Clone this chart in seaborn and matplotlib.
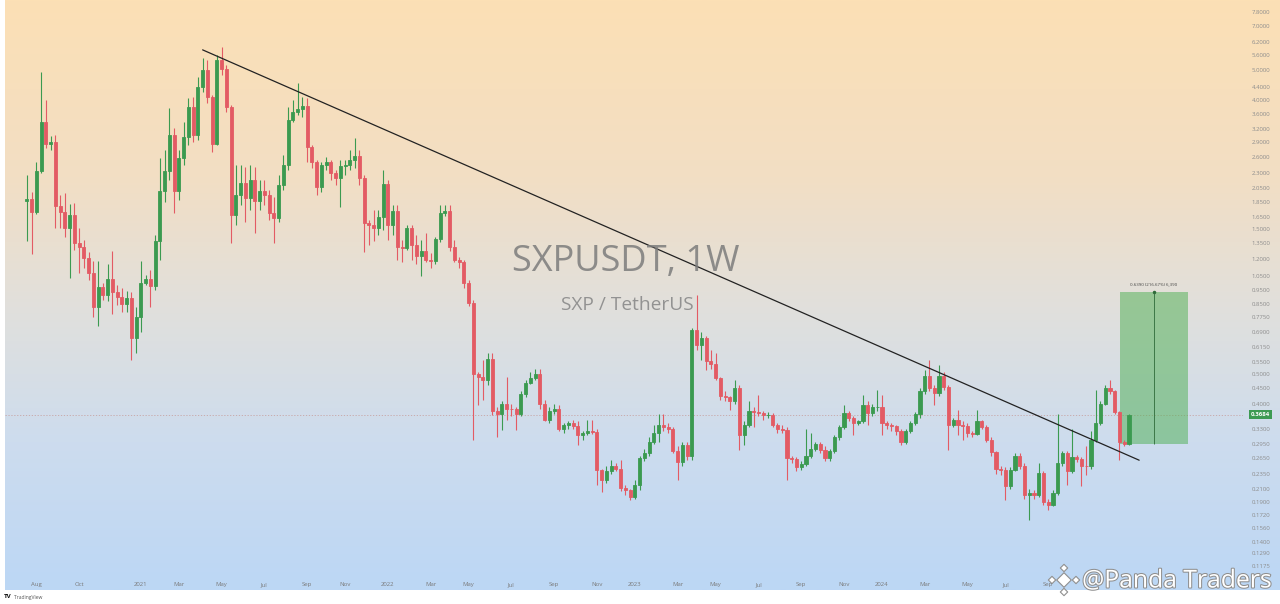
import numpy as np
import pandas as pd
import matplotlib
matplotlib.use("Agg")
import matplotlib.pyplot as plt
import matplotlib.dates as mdates
import matplotlib.patheffects as pe
from matplotlib.colors import LinearSegmentedColormap
from matplotlib.patches import Rectangle
from matplotlib.ticker import NullLocator, FixedLocator, FuncFormatter
import seaborn as sns

# ---- weekly SXPUSDT candles ----
first_week = "2020-07-20"
first_open = 1.86
close = [
    1.89, 1.71, 2.33, 3.38, 2.86, 2.90, 1.79, 1.71, 1.52, 1.67,
    1.35, 1.31, 1.21, 1.08, 0.83, 0.97, 0.91, 1.03, 0.93, 0.90,
    0.85, 0.89, 0.66, 0.77, 1.00, 1.03, 0.98, 1.37, 2.00, 2.33,
    3.07, 2.00, 2.58, 3.02, 3.78, 3.07, 4.40, 5.00, 4.10, 2.86,
    5.41, 5.05, 3.78, 1.67, 1.95, 2.13, 1.90, 2.18, 1.86, 2.00,
    1.94, 1.70, 1.64, 2.10, 2.44, 3.44, 3.65, 3.72, 3.82, 2.80,
    2.50, 2.06, 2.44, 2.50, 2.30, 2.22, 2.42, 2.44, 2.54, 2.62,
    2.22, 1.57, 1.55, 1.51, 1.65, 2.12, 1.55, 1.72, 1.31, 1.30,
    1.52, 1.33, 1.23, 1.27, 1.19, 1.18, 1.39, 1.70, 1.72, 1.31,
    1.19, 1.17, 1.00, 0.86, 0.50, 0.49, 0.48, 0.56, 0.38, 0.37,
    0.40, 0.385, 0.384, 0.37, 0.43, 0.47, 0.485, 0.50, 0.40, 0.355,
    0.38, 0.385, 0.33, 0.34, 0.345, 0.337, 0.315, 0.32, 0.325, 0.323,
    0.242, 0.225, 0.24, 0.25, 0.245, 0.212, 0.208, 0.197, 0.216, 0.265,
    0.275, 0.30, 0.32, 0.34, 0.335, 0.33, 0.28, 0.258, 0.293, 0.27,
    0.70, 0.625, 0.66, 0.555, 0.54, 0.485, 0.425, 0.42, 0.41, 0.45,
    0.316, 0.34, 0.38, 0.377, 0.372, 0.367, 0.368, 0.34, 0.33, 0.329,
    0.265, 0.263, 0.248, 0.253, 0.27, 0.285, 0.295, 0.283, 0.265, 0.28,
    0.31, 0.335, 0.372, 0.36, 0.345, 0.35, 0.396, 0.373, 0.39, 0.392,
    0.345, 0.34, 0.337, 0.325, 0.30, 0.325, 0.345, 0.37, 0.44, 0.495,
    0.45, 0.435, 0.495, 0.455, 0.34, 0.355, 0.34, 0.337, 0.32, 0.318,
    0.35, 0.335, 0.305, 0.277, 0.245, 0.243, 0.215, 0.243, 0.27, 0.25,
    0.20, 0.203, 0.201, 0.237, 0.19, 0.186, 0.203, 0.255, 0.275, 0.24,
    0.268, 0.263, 0.25, 0.249, 0.305, 0.345, 0.40, 0.45, 0.44, 0.375,
    0.30, 0.296, 0.368,
]
high = [
    2.26, 1.99, 2.50, 4.95, 4.00, 3.05, 3.07, 1.95, 1.98, 1.82,
    1.83, 1.52, 1.38, 1.26, 1.18, 1.18, 1.00, 1.15, 1.27, 0.985,
    0.96, 0.94, 0.93, 0.83, 1.18, 1.06, 1.10, 1.44, 2.58, 2.74,
    3.76, 3.22, 2.74, 3.38, 4.06, 4.10, 4.75, 5.50, 5.41, 4.15,
    5.62, 5.95, 5.21, 3.85, 2.44, 2.44, 2.40, 2.44, 2.40, 2.18,
    2.18, 2.02, 1.92, 2.26, 2.63, 3.78, 4.00, 4.55, 4.10, 4.06,
    2.84, 2.54, 2.50, 2.60, 2.54, 2.35, 2.54, 2.54, 2.74, 2.99,
    2.74, 2.26, 1.61, 1.74, 1.74, 2.35, 2.18, 1.80, 1.80, 1.38,
    1.55, 1.55, 1.44, 1.38, 1.46, 1.25, 1.42, 1.80, 1.80, 1.80,
    1.38, 1.22, 1.19, 1.02, 0.88, 0.51, 0.557, 0.59, 0.59, 0.39,
    0.41, 0.49, 0.40, 0.39, 0.44, 0.48, 0.51, 0.52, 0.52, 0.412,
    0.39, 0.40, 0.396, 0.345, 0.35, 0.354, 0.35, 0.325, 0.354, 0.354,
    0.33, 0.245, 0.25, 0.262, 0.255, 0.262, 0.216, 0.21, 0.225, 0.27,
    0.285, 0.31, 0.341, 0.37, 0.37, 0.345, 0.335, 0.29, 0.30, 0.30,
    0.71, 0.91, 0.69, 0.67, 0.60, 0.59, 0.49, 0.44, 0.425, 0.48,
    0.46, 0.35, 0.41, 0.39, 0.427, 0.38, 0.375, 0.372, 0.345, 0.34,
    0.335, 0.27, 0.268, 0.26, 0.33, 0.32, 0.30, 0.30, 0.29, 0.285,
    0.315, 0.34, 0.396, 0.38, 0.365, 0.355, 0.427, 0.41, 0.40, 0.444,
    0.427, 0.35, 0.345, 0.34, 0.33, 0.33, 0.35, 0.375, 0.45, 0.517,
    0.557, 0.46, 0.537, 0.51, 0.46, 0.36, 0.382, 0.35, 0.345, 0.325,
    0.382, 0.355, 0.34, 0.31, 0.28, 0.25, 0.247, 0.248, 0.275, 0.275,
    0.255, 0.21, 0.208, 0.255, 0.24, 0.195, 0.208, 0.37, 0.28, 0.28,
    0.33, 0.272, 0.268, 0.29, 0.325, 0.444, 0.41, 0.461, 0.479, 0.445,
    0.38, 0.305, 0.37,
]
low = [
    1.37, 1.24, 1.68, 2.30, 2.78, 2.74, 1.52, 1.51, 1.42, 1.04,
    1.28, 1.08, 1.12, 1.02, 0.77, 0.72, 0.88, 0.87, 0.79, 0.846,
    0.80, 0.80, 0.557, 0.59, 0.69, 0.985, 0.83, 0.95, 1.19, 1.85,
    2.18, 1.70, 1.87, 2.44, 2.84, 2.90, 2.95, 4.25, 3.90, 2.69,
    2.84, 4.83, 3.64, 1.35, 1.55, 1.80, 1.59, 1.74, 1.46, 1.74,
    1.80, 1.61, 1.35, 1.59, 2.02, 2.35, 3.38, 3.57, 3.50, 2.50,
    2.39, 1.95, 1.99, 2.35, 2.18, 2.10, 1.78, 2.26, 2.35, 2.39,
    2.10, 1.26, 1.33, 1.37, 1.44, 1.49, 1.38, 1.44, 1.19, 1.17,
    1.28, 1.19, 1.15, 1.05, 1.17, 1.12, 1.15, 1.36, 1.66, 1.27,
    1.17, 1.12, 0.96, 0.84, 0.304, 0.396, 0.412, 0.46, 0.367, 0.312,
    0.328, 0.354, 0.366, 0.328, 0.365, 0.42, 0.465, 0.48, 0.385, 0.35,
    0.345, 0.37, 0.325, 0.32, 0.33, 0.33, 0.293, 0.305, 0.315, 0.318,
    0.216, 0.205, 0.22, 0.235, 0.24, 0.207, 0.20, 0.193, 0.195, 0.208,
    0.26, 0.27, 0.295, 0.30, 0.325, 0.32, 0.275, 0.225, 0.25, 0.262,
    0.262, 0.60, 0.557, 0.517, 0.52, 0.48, 0.412, 0.41, 0.382, 0.40,
    0.282, 0.293, 0.335, 0.335, 0.365, 0.355, 0.36, 0.335, 0.32, 0.32,
    0.225, 0.255, 0.24, 0.243, 0.25, 0.265, 0.28, 0.275, 0.26, 0.26,
    0.275, 0.305, 0.33, 0.35, 0.316, 0.34, 0.345, 0.34, 0.365, 0.38,
    0.316, 0.33, 0.325, 0.315, 0.293, 0.295, 0.32, 0.34, 0.36, 0.43,
    0.44, 0.396, 0.425, 0.445, 0.282, 0.335, 0.316, 0.304, 0.31, 0.31,
    0.315, 0.33, 0.30, 0.27, 0.235, 0.233, 0.193, 0.21, 0.24, 0.245,
    0.195, 0.166, 0.195, 0.198, 0.186, 0.179, 0.184, 0.20, 0.25, 0.216,
    0.237, 0.258, 0.214, 0.233, 0.245, 0.30, 0.34, 0.395, 0.43, 0.37,
    0.261, 0.29, 0.293,
]
last_price = 0.3684

# right-hand price scale
price_ticks = [7.8, 7.0, 6.2, 5.6, 5.0, 4.4, 4.0, 3.6, 3.2, 2.9, 2.6, 2.3,
               2.05, 1.85, 1.65, 1.5, 1.35, 1.2, 1.05, 0.95, 0.85, 0.775,
               0.69, 0.615, 0.55, 0.50, 0.45, 0.40, 0.33, 0.295, 0.265,
               0.235, 0.21, 0.19, 0.172, 0.156, 0.14, 0.129, 0.1175]

# time scale
time_tick_dates = ["2020-08-03", "2020-10-05", "2021-01-04", "2021-03-01",
                   "2021-05-03", "2021-07-05", "2021-09-06", "2021-11-01",
                   "2022-01-03", "2022-03-07", "2022-05-02", "2022-07-04",
                   "2022-09-05", "2022-11-07", "2023-01-02", "2023-03-06",
                   "2023-05-01", "2023-07-03", "2023-09-04", "2023-11-06",
                   "2024-01-01", "2024-03-04", "2024-05-06", "2024-07-01",
                   "2024-09-02"]
time_tick_labels = ["Aug", "Oct", "2021", "Mar", "May", "Jul", "Sep", "Nov",
                    "2022", "Mar", "May", "Jul", "Sep", "Nov", "2023", "Mar",
                    "May", "Jul", "Sep", "Nov", "2024", "Mar", "May", "Jul",
                    "Sep"]

# drawings
trend_dates = ["2021-04-05", "2025-01-14"]
trend_prices = [5.84, 0.261]
target_dates = ["2024-12-17", "2025-03-27"]
target_prices = [0.295, 0.934]
target_label = "0.6390 (216.67%) 6,390"

UP = "#3b9a50"
DOWN = "#e35b64"

sns.set_style("white")
plt.rcParams["font.family"] = ["Open Sans", "DejaVu Sans"]

W, H = 1280, 604
fig = plt.figure(figsize=(W / 100, H / 100), dpi=100)
fig.patch.set_facecolor("white")

# gradient background
bg = fig.add_axes([0, 0, 1, 1], zorder=-10)
bg.set_xlim(0, 1)
bg.set_ylim(0, 1)
bg.axis("off")
cmap = LinearSegmentedColormap.from_list(
    "tvbg", [(0.0, "#fce0b5"), (0.3, "#f2dec4"), (0.52, "#e1e0dc"),
             (0.75, "#cddcee"), (1.0, "#bcd7f5")])
grad = np.linspace(0, 1, 256).reshape(-1, 1)
bg.imshow(grad, aspect="auto", cmap=cmap,
          extent=[5 / W, 1, (H - 590) / H, 1])

ax = fig.add_axes([5 / W, (H - 575) / H, (1243 - 5) / W, 575 / H])
ax.set_facecolor("none")

dates = pd.date_range(first_week, periods=len(close), freq="7D")
xs = mdates.date2num(dates)
opens = [first_open] + close[:-1]
df = pd.DataFrame({"x": xs, "open": opens, "high": high, "low": low, "close": close})
df["color"] = np.where(df["close"] >= df["open"], UP, DOWN)

ax.set_yscale("log")
ax.vlines(df["x"], df["low"], df["high"], colors=df["color"], lw=0.8, zorder=2)
body_lo = df[["open", "close"]].min(axis=1)
body_h = (df["open"] - df["close"]).abs()
ax.bar(df["x"], body_h, bottom=body_lo, width=4.6, color=df["color"],
       edgecolor=df["color"], linewidth=0.6, zorder=3)

# trend line
tx = mdates.date2num(pd.to_datetime(trend_dates))
sns.lineplot(x=tx, y=trend_prices, ax=ax, color="#222222", lw=0.9, zorder=4)

# last price line
ax.axhline(last_price, color="#c8a4a4", lw=0.6, ls=(0, (1.5, 2)), zorder=1)

# target box
bx = mdates.date2num(pd.to_datetime(target_dates))
ax.add_patch(Rectangle((bx[0], target_prices[0]), bx[1] - bx[0],
                       target_prices[1] - target_prices[0],
                       facecolor="#4caf50", alpha=0.5, edgecolor="none", zorder=1))
mid = (bx[0] + bx[1]) / 2
ax.vlines(mid, target_prices[0], target_prices[1], color="#2f6b3a", lw=0.6, zorder=2)
ax.plot(mid, target_prices[1], marker="o", ms=1.5, color="#2f6b3a", zorder=3)
ax.text(mid, target_prices[1] * 1.045, target_label, ha="center", va="bottom",
        fontsize=3.2, color="#444444")

ax.set_xlim(xs[0] - 4.6 * 7, xs[0] + 256 * 7)
ax.set_ylim(0.1094, 8.52)

ax.yaxis.tick_right()
ax.yaxis.set_major_locator(FixedLocator(price_ticks))
ax.yaxis.set_minor_locator(NullLocator())
ax.yaxis.set_major_formatter(FuncFormatter(lambda v, p: f"{v:.4f}"))
ax.tick_params(axis="y", length=0, pad=6, labelsize=4.3, labelcolor="#8c8c8c")

tick_x = mdates.date2num(pd.to_datetime(time_tick_dates))
ax.set_xticks(tick_x)
ax.set_xticklabels(time_tick_labels)
ax.tick_params(axis="x", length=0, pad=5, labelsize=4.3, labelcolor="#7a7a7a")
ax.set_xlabel("")
ax.set_ylabel("")
for s in ax.spines.values():
    s.set_visible(False)
ax.grid(False)

# last price tag
ax.text(1.0 + 8 / 1238, last_price, f"{last_price:.4f}",
        transform=ax.get_yaxis_transform(), ha="left", va="center",
        fontsize=4.3, color="white", fontweight="bold",
        bbox=dict(boxstyle="square,pad=0.35", facecolor="#3d9a52", edgecolor="none"))

# symbol watermark
fig.text(626 / W, 1 - 262 / H, "SXPUSDT, 1W", ha="center", va="center",
         fontsize=26, color="#7c7c7c", alpha=0.85)
fig.text(627 / W, 1 - 305 / H, "SXP / TetherUS", ha="center", va="center",
         fontsize=13.8, color="#8a8a8a", alpha=0.9)

# author watermark
stroke = [pe.withStroke(linewidth=1.5, foreground="#8f8f8f")]
fig.text(1272 / W, 1 - 581 / H, "@Panda Traders", ha="right", va="center",
         fontsize=17.8, color="white", path_effects=stroke)
# exchange logo: small diamonds around a centre diamond
logo_x = np.array([1064, 1052, 1076, 1064, 1064]) / W
logo_y = 1 - np.array([580, 580, 580, 568, 592]) / H
bg.scatter(logo_x, logo_y, marker="D", s=[55, 14, 14, 14, 14], facecolor="white",
           edgecolor="#8f8f8f", linewidth=0.8, zorder=5)

# TradingView credit
fig.text(4 / W, 1 - 597 / H, "TV", ha="left", va="center", fontsize=4.5,
         fontweight="bold", color="#111111")
fig.text(14 / W, 1 - 597 / H, "TradingView", ha="left", va="center",
         fontsize=3.6, color="#555555")

fig.savefig("out.png", dpi=100)
